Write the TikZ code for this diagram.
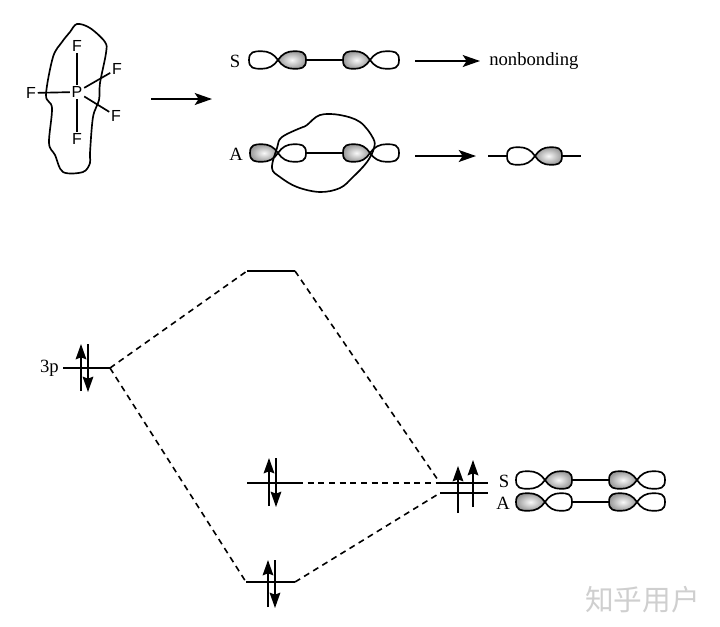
\documentclass[tikz,border=0pt]{standalone}
\usepackage{fontspec}
\setmainfont{Liberation Serif}
\newfontfamily\atomfont{Liberation Sans}
\newfontfamily\cjkfont{Noto Sans CJK SC}
\usetikzlibrary{arrows.meta}
\tikzset{
  bondline/.style={line width=1.25pt},
  lvlline/.style={line width=1.25pt},
  dashline/.style={line width=1.2pt,dash pattern=on 4.5pt off 3.5pt},
  rxn/.style={line width=1.25pt,-{Stealth[length=13pt,width=9pt,inset=3pt]}},
  spin/.style={line width=1.25pt,-{Stealth[length=11.5pt,width=8pt,inset=1.5pt]}},
  atomlab/.style={font=\atomfont\fontsize{12}{13}\selectfont,inner sep=1.2pt},
  lab/.style={font=\fontsize{14}{15}\selectfont,inner sep=0pt},
  whitelobe/.style={draw,line width=1.25pt,fill=white},
  greylobe/.style={draw,line width=1.25pt,shade,inner color=gray!5,outer color=gray!80},
  blob/.style={line width=1.25pt}
}
% name, x, y, direction (+1/-1), length, style
\newcommand{\lobe}[6]{%
  \begin{scope}[shift={(#2,#3)},xscale=#4*#5/28]
    \path[#6] (0,0) .. controls (4,-6) and (9,-8.8) .. (16,-8.8)
      .. controls (23,-8.8) and (28,-8.5) .. (28,0)
      .. controls (28,8.5) and (23,8.8) .. (16,8.8)
      .. controls (9,8.8) and (4,6) .. (0,0) -- cycle;
    \coordinate (#1) at (28,0);
  \end{scope}}
\begin{document}
\begin{tikzpicture}[x=0.75pt,y=-0.75pt]
\useasboundingbox (0,0) rectangle (720,626);
\fill[white] (0,0) rectangle (720,626);

% PF5 and its outline
\node[atomlab] (P) at (77,92) {P};
\node[atomlab] (Ft) at (77,46) {F};
\node[atomlab] (Fb) at (77,139) {F};
\node[atomlab] (Fl) at (31,93) {F};
\node[atomlab] (Fu) at (117,69) {F};
\node[atomlab] (Fd) at (116,116) {F};
\draw[bondline] (P) -- (Ft);
\draw[bondline] (P) -- (Fb);
\draw[bondline] (P) -- (Fl);
\draw[bondline] (P) -- (Fu);
\draw[bondline] (P) -- (Fd);
\draw[blob] plot[smooth cycle,tension=0.55] coordinates {
  (77,24) (90,28) (105,42) (106,53) (100,83) (99,100) (93,117) (90,153)
  (90,163) (83,172) (63,172) (55,155) (49,143) (52,108) (46,95) (53,57) (62,42) (70,32)};

\coordinate (a1s) at (151,99);
\coordinate (a1e) at (212,99);
\draw[rxn] (a1s) -- (a1e);

% S orbital, top
\node[lab] (S1) at (235,61) {S};
\lobe{s1a}{278}{60}{-1}{29}{whitelobe}
\lobe{s1b}{278}{60}{1}{28}{greylobe}
\lobe{s1c}{370}{60}{-1}{27}{greylobe}
\lobe{s1d}{370}{60}{1}{29}{whitelobe}
\draw[bondline] (s1b) -- (s1c);
\coordinate (a2s) at (415,61);
\coordinate (a2e) at (480,61);
\draw[rxn] (a2s) -- (a2e);
\node[lab,anchor=west] (nb) at (489,61.5) {nonbonding};

% A orbital, top
\node[lab] (A1) at (236,154) {A};
\lobe{a1a}{278}{153}{-1}{28}{greylobe}
\lobe{a1b}{278}{153}{1}{28}{whitelobe}
\lobe{a1c}{370}{153}{-1}{27}{greylobe}
\lobe{a1d}{370}{153}{1}{29}{whitelobe}
\draw[bondline] (a1b) -- (a1c);
\draw[blob] plot[smooth,tension=0.6] coordinates {
  (303,127) (307,125) (320,115) (340,115) (360,122) (373,138) (374,148) (367,162)
  (353,177) (340,188) (320,192) (297,187) (280,177) (272,168) (277,148) (282,137) (303,127)};
\coordinate (a3s) at (415,156);
\coordinate (a3e) at (476,156);
\draw[rxn] (a3s) -- (a3e);

% resulting orbital
\lobe{r1}{535}{156}{-1}{28}{whitelobe}
\lobe{r2}{535}{156}{1}{27}{greylobe}
\coordinate (r0) at (488,156);
\coordinate (r3) at (581,156);
\draw[bondline] (r0) -- (r1);
\draw[bondline] (r2) -- (r3);

% Levels
\coordinate (pL) at (63,368);   \coordinate (pR) at (110,368);
\coordinate (tL) at (247,271);  \coordinate (tR) at (295,271);
\coordinate (mL) at (247,483);  \coordinate (mR) at (297,483);
\coordinate (bL) at (246,582);  \coordinate (bR) at (295,582);
\coordinate (sL) at (440,483);  \coordinate (sR) at (488,483);
\coordinate (aL) at (440,493);  \coordinate (aR) at (488,493);
\draw[lvlline] (pL) -- (pR);
\draw[lvlline] (tL) -- (tR);
\draw[lvlline] (mL) -- (mR);
\draw[lvlline] (bL) -- (bR);
\draw[lvlline] (sL) -- (sR);
\draw[lvlline] (aL) -- (aR);
\draw[dashline] (pR) -- (tL);
\draw[dashline] (pR) -- (bL);
\draw[dashline] (tR) -- (sL);
\draw[dashline] (mR) -- (sL);
\draw[dashline] (bR) -- (aL);
\node[lab,anchor=east] (3p) at (59,368) {3p};

% Spin arrows
\draw[spin] (81,391) -- (81,344);
\draw[spin] (88,344) -- (88,392);
\draw[spin] (269,506) -- (269,458);
\draw[spin] (276,458) -- (276,507);
\draw[spin] (268,607) -- (268,560);
\draw[spin] (275,560) -- (275,608);
\draw[spin] (458,513) -- (458,466);
\draw[spin] (473,507) -- (473,460);

% S and A orbitals, right
\node[lab] (S2) at (504,481) {S};
\lobe{s2a}{545}{480}{-1}{29}{whitelobe}
\lobe{s2b}{545}{480}{1}{27}{greylobe}
\lobe{s2c}{637}{480}{-1}{28}{greylobe}
\lobe{s2d}{637}{480}{1}{28}{whitelobe}
\draw[bondline] (s2b) -- (s2c);
\node[lab] (A2) at (503,503) {A};
\lobe{a2a}{545}{502}{-1}{29}{greylobe}
\lobe{a2b}{545}{502}{1}{27}{whitelobe}
\lobe{a2c}{637}{502}{-1}{28}{greylobe}
\lobe{a2d}{637}{502}{1}{28}{whitelobe}
\draw[bondline] (a2b) -- (a2c);

% Watermark
\node[font=\cjkfont\fontsize{21.5}{23}\selectfont,text=gray!38,inner sep=0pt] (wm) at (642.5,600) {知乎用户};
\end{tikzpicture}
\end{document}
